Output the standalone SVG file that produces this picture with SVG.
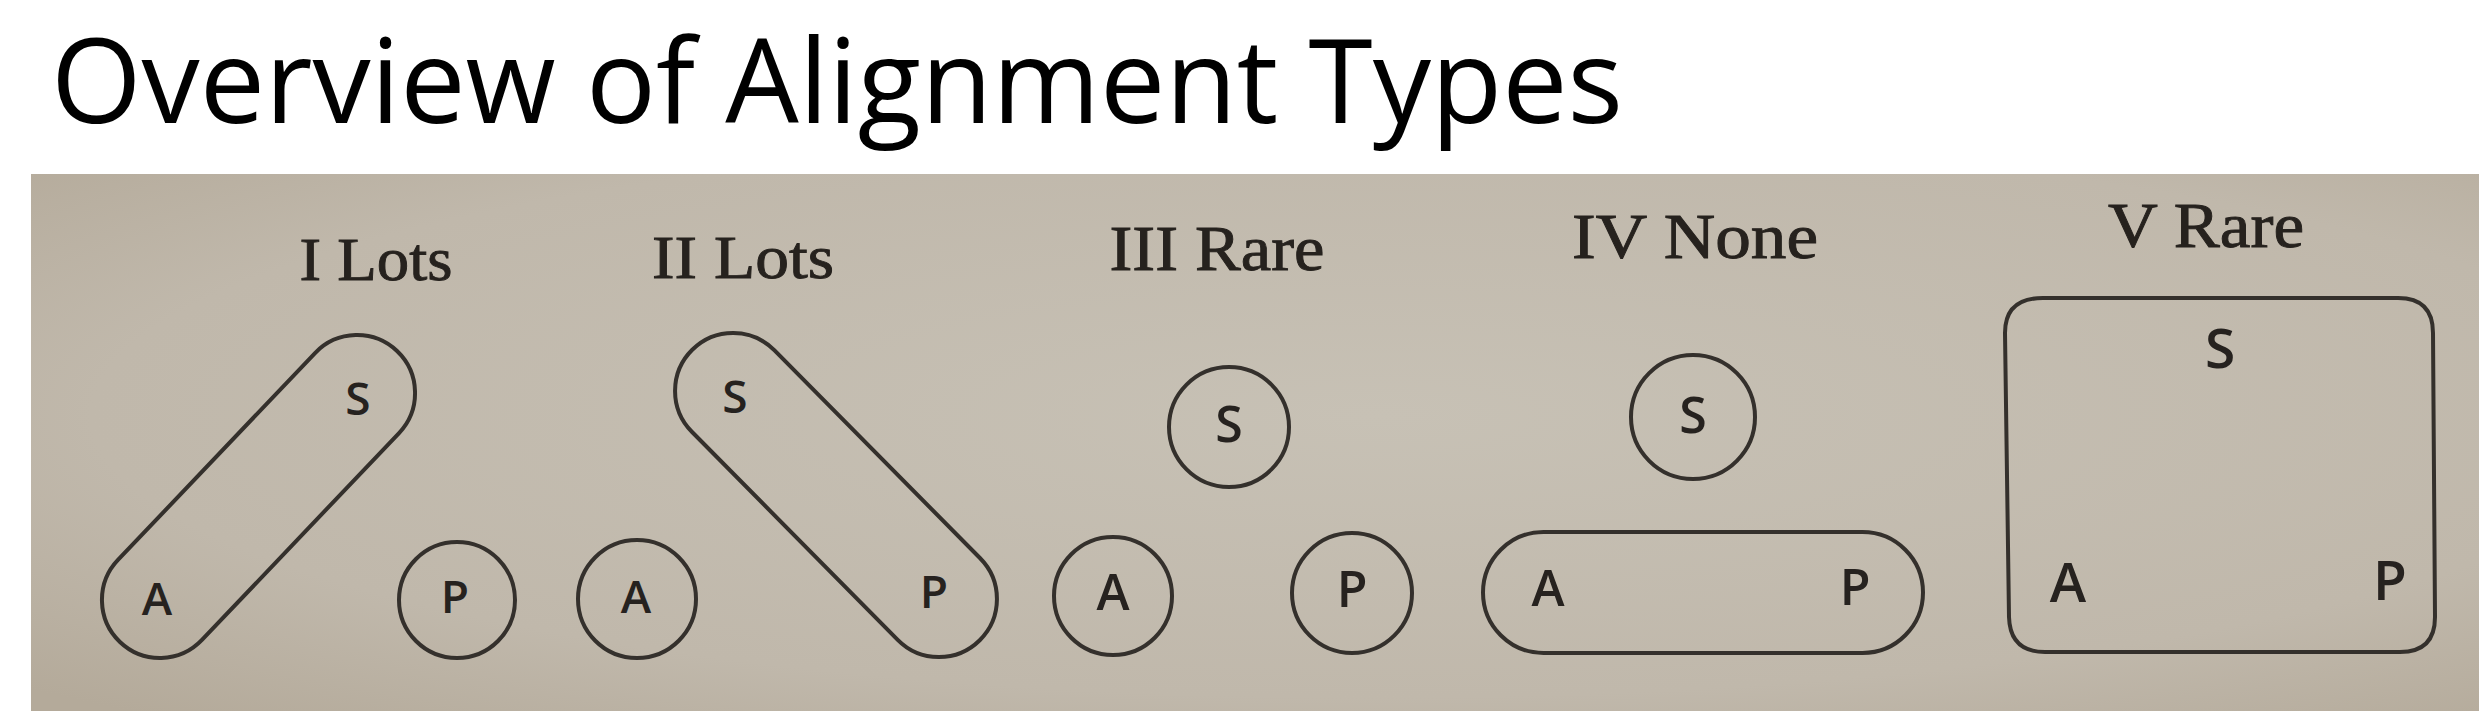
<svg xmlns="http://www.w3.org/2000/svg" width="2479" height="711" viewBox="0 0 2479 711">
  <defs>
    <radialGradient id="paper" cx="0.55" cy="0.45" r="0.75">
      <stop offset="0" stop-color="#c7c1b5"/>
      <stop offset="0.7" stop-color="#c0b8ab"/>
      <stop offset="1" stop-color="#b4aa9a"/>
    </radialGradient>
    <style>
      .shape { fill: none; stroke: #34302c; stroke-width: 4; }
      .lbl { font-family: "Liberation Serif", "Times New Roman", serif; font-size: 62px; fill: #26221e; stroke: #26221e; stroke-width: 0.9; text-anchor: middle; }
      .ltr { font-family: "Open Sans", "Liberation Sans", sans-serif; font-weight: 600; font-size: 46px; fill: #26221f; text-anchor: middle; }
      .ltr2 { font-family: "Open Sans", "Liberation Sans", sans-serif; font-weight: 600; font-size: 50px; fill: #26221f; text-anchor: middle; }
      .ltr3 { font-family: "Open Sans", "Liberation Sans", sans-serif; font-weight: 600; font-size: 55px; fill: #26221f; text-anchor: middle; }
      .title { font-family: "Open Sans", "Liberation Sans", sans-serif; font-size: 118px; fill: #000000; }
    </style>
  </defs>

  <rect x="0" y="0" width="2479" height="711" fill="#ffffff"/>
  <text class="title" x="51" y="123" textLength="1572" lengthAdjust="spacingAndGlyphs">Overview of Alignment Types</text>

  <rect id="photo" x="31" y="174" width="2448" height="537" fill="url(#paper)"/>

  <g id="connectors"/>

  <g id="type-I">
    <text class="lbl" x="376" y="280" textLength="153" lengthAdjust="spacingAndGlyphs">I Lots</text>
    <rect class="shape" x="-200.9" y="-58" width="401.8" height="116" rx="58" transform="translate(258.5 496.5) rotate(-46.4)"/>
    <circle class="shape" cx="457" cy="600" r="58"/>
    <text class="ltr" x="358" y="415">S</text>
    <text class="ltr" x="157" y="615">A</text>
    <text class="ltr" x="455" y="613">P</text>
  </g>

  <g id="type-II">
    <text class="lbl" x="743" y="278" textLength="182" lengthAdjust="spacingAndGlyphs">II Lots</text>
    <rect class="shape" x="-204.35" y="-58" width="408.7" height="116" rx="58" transform="translate(836 495) rotate(45.3)"/>
    <circle class="shape" cx="637" cy="599" r="59"/>
    <text class="ltr" x="735" y="413">S</text>
    <text class="ltr" x="636" y="613">A</text>
    <text class="ltr" x="934" y="608">P</text>
  </g>

  <g id="type-III">
    <text class="lbl" x="1217" y="270" style="font-size:64px" textLength="215" lengthAdjust="spacingAndGlyphs">III Rare</text>
    <circle class="shape" cx="1229" cy="427" r="60"/>
    <circle class="shape" cx="1113" cy="596" r="59"/>
    <circle class="shape" cx="1352" cy="593" r="60"/>
    <text class="ltr2" x="1229" y="442">S</text>
    <text class="ltr2" x="1113" y="610">A</text>
    <text class="ltr2" x="1352" y="607">P</text>
  </g>

  <g id="type-IV">
    <text class="lbl" x="1695" y="258" style="font-size:64px" textLength="246" lengthAdjust="spacingAndGlyphs">IV None</text>
    <circle class="shape" cx="1693" cy="417" r="62"/>
    <rect class="shape" x="1483" y="532" width="440" height="121" rx="60.5"/>
    <text class="ltr2" x="1693" y="433">S</text>
    <text class="ltr2" x="1548" y="606">A</text>
    <text class="ltr2" x="1855" y="605">P</text>
  </g>

  <g id="type-V">
    <text class="lbl" x="2206" y="247" style="font-size:64px" textLength="196" lengthAdjust="spacingAndGlyphs">V Rare</text>
    <path class="shape" d="M2043,298 L2398,298 Q2433,298 2433,333 L2435,617 Q2435,652 2400,652 L2045,652 Q2010,652 2009,617 L2005,333 Q2005,298 2043,298 Z"/>
    <text class="ltr3" x="2220" y="368">S</text>
    <text class="ltr3" x="2068" y="602">A</text>
    <text class="ltr3" x="2390" y="600">P</text>
  </g>
</svg>
